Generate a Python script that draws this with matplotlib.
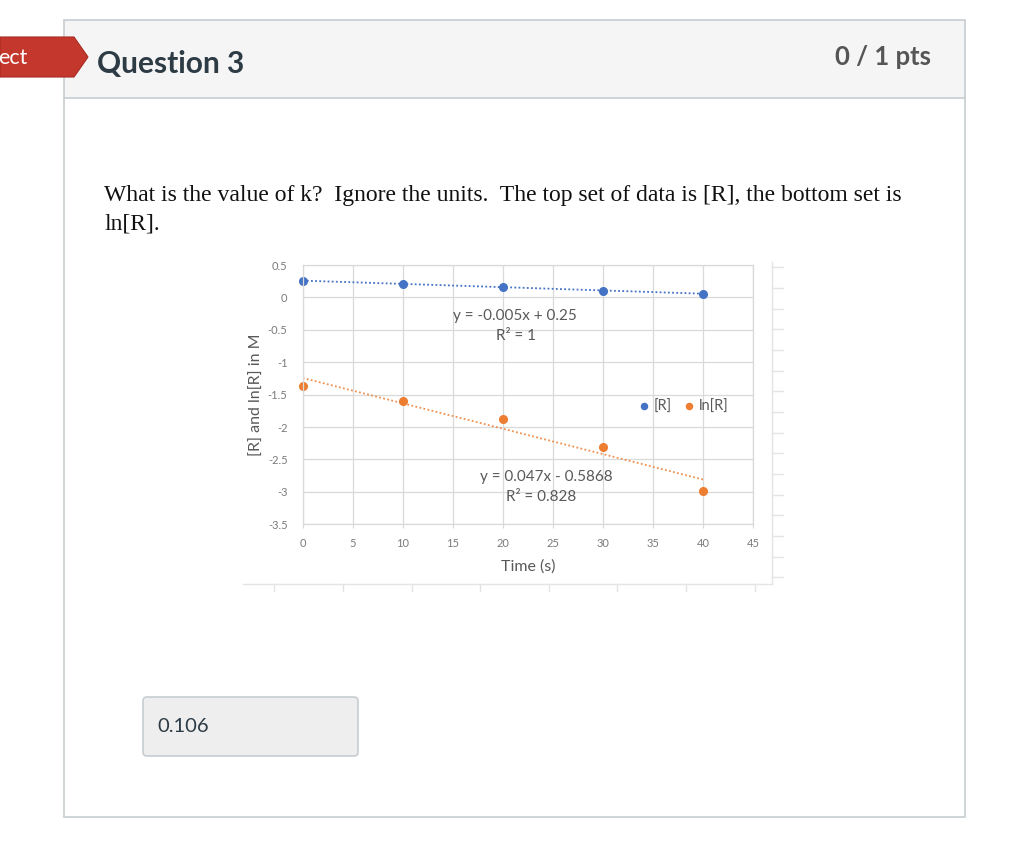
import numpy as np
import matplotlib.pyplot as plt
import matplotlib.patches as patches

# data
time_s = [0, 10, 20, 30, 40]
conc = [0.26, 0.21, 0.155, 0.105, 0.06]
ln_conc = [-1.37, -1.60, -1.88, -2.30, -2.98]
eq_conc = ["y = -0.005x + 0.25", "R² = 1"]
eq_ln = ["y = 0.047x - 0.5868", "R² = 0.828"]
x_ticks = [0, 5, 10, 15, 20, 25, 30, 35, 40, 45]
y_ticks = [0.5, 0, -0.5, -1, -1.5, -2, -2.5, -3, -3.5]

W, H = 1024, 842
BLUE = "#4472C4"
ORANGE = "#ED7D31"
GRID = "#d9d9d9"
TXT = "#595959"

fig = plt.figure(figsize=(W / 100, H / 100), dpi=100)
page = fig.add_axes([0, 0, 1, 1])
page.set_xlim(0, W)
page.set_ylim(H, 0)
page.axis("off")

# question box
border = "#c7cdd1"
page.add_patch(patches.Rectangle((64, 20), 901, 78, facecolor="#f5f5f5", edgecolor="none"))
page.add_patch(patches.Rectangle((64, 20), 901, 797, fill=False, edgecolor=border, lw=1.2))
page.plot([64, 965], [98, 98], color=border, lw=1.2)

# red "incorrect" tag (cut off at the left)
page.add_patch(patches.Polygon([(0, 37), (74, 37), (88, 57), (74, 77), (0, 77)],
                               closed=True, facecolor="#c4372c", edgecolor="#a82a20", lw=0.8))
page.text(-2, 58, "ect", color="white", fontsize=15.5, family="Lato", va="center", ha="left")

page.text(97, 64, "Question 3", fontsize=21.5, fontweight="bold", family="Lato",
          color="#2d3b45", va="center", ha="left")
page.text(931, 57, "0 / 1 pts", fontsize=18.5, fontweight="bold", family="Lato",
          color="#555555", va="center", ha="right")

page.text(104, 195, "What is the value of k?  Ignore the units.  The top set of data is [R], the bottom set is",
          fontsize=17, family="Liberation Serif", color="#111111", va="center", ha="left")
page.text(104, 224, "ln[R].", fontsize=17, family="Liberation Serif", color="#111111",
          va="center", ha="left")

# answer box
page.add_patch(patches.FancyBboxPatch((143, 697), 215, 59, boxstyle="round,pad=0,rounding_size=4",
                                      facecolor="#eeeeee", edgecolor="#c7cdd1", lw=1.2))
page.text(157, 727, "0.106", fontsize=14.5, family="Lato", color="#2d3b45", va="center", ha="left")

# leftover spreadsheet cell lines around the pasted chart
faint = "#e4e4e4"
page.plot([772, 772], [262, 584], color=faint, lw=1)
page.plot([243, 772], [584, 584], color=faint, lw=1)
for yy in np.arange(577.3, 262, -20.67):
    page.plot([772, 783], [yy, yy], color=faint, lw=1)
for xx in [274, 343, 412, 480, 549, 617, 686, 755]:
    page.plot([xx, xx], [584, 591], color=faint, lw=1)

# the chart itself
left, right, top, bottom = 302.7, 753.3, 265, 524.3
ax = fig.add_axes([left / W, 1 - bottom / H, (right - left) / W, (bottom - top) / H])
ax.set_xlim(0, 45)
ax.set_ylim(-3.5, 0.5)
ax.set_xticks(x_ticks)
ax.set_yticks(y_ticks)
ax.set_xticklabels([str(v) for v in x_ticks])
ax.set_yticklabels([f"{v:g}" for v in y_ticks])
ax.grid(True, color=GRID, lw=0.9)
ax.set_axisbelow(True)
for s in ax.spines.values():
    s.set_color(GRID)
    s.set_linewidth(0.9)
ax.tick_params(axis="x", length=3, color=GRID, labelsize=8, labelcolor="#7a7a7a", pad=7)
ax.tick_params(axis="y", length=0, labelsize=8, labelcolor="#7a7a7a", pad=11)
for lab in ax.get_xticklabels() + ax.get_yticklabels():
    lab.set_family("Lato")

# linear trendlines as Excel fits them
t = np.array(time_s, dtype=float)
p1 = np.polyfit(t, conc, 1)
p2 = np.polyfit(t, ln_conc, 1)
ax.plot(t[[0, -1]], np.polyval(p1, t[[0, -1]]), color=BLUE, ls=(0, (1, 1.3)), lw=1.3)
ax.plot(t[[0, -1]], np.polyval(p2, t[[0, -1]]), color=ORANGE, ls=(0, (1, 1.3)), lw=1.3, alpha=0.85)

ax.plot(time_s, conc, "o", color=BLUE, ms=5.5, label="[R]", clip_on=False)
ax.plot(time_s, ln_conc, "o", color=ORANGE, ms=5.5, label="ln[R]", clip_on=False)

fs_eq = 11
ax.text(21.2, -0.29, eq_conc[0], fontsize=fs_eq, family="Lato", color=TXT, ha="center", va="center")
ax.text(21.3, -0.60, eq_conc[1], fontsize=fs_eq, family="Lato", color=TXT, ha="center", va="center")
ax.text(24.3, -2.77, eq_ln[0], fontsize=fs_eq, family="Lato", color=TXT, ha="center", va="center")
ax.text(23.8, -3.08, eq_ln[1], fontsize=fs_eq, family="Lato", color=TXT, ha="center", va="center")

leg = ax.legend(loc="center", bbox_to_anchor=(0.842, 0.452), ncol=2, frameon=False,
                handletextpad=0.05, columnspacing=0.6, handlelength=1.2, markerscale=0.8,
                prop={"family": "Lato", "size": 10.5})
for txt in leg.get_texts():
    txt.set_color(TXT)

ax.set_xlabel("Time (s)", fontsize=11.5, family="Lato", color=TXT, labelpad=7)
ax.set_ylabel("[R] and ln[R] in M", fontsize=11.5, family="Lato", color=TXT, labelpad=3)

fig.savefig("out.png", dpi=100)
